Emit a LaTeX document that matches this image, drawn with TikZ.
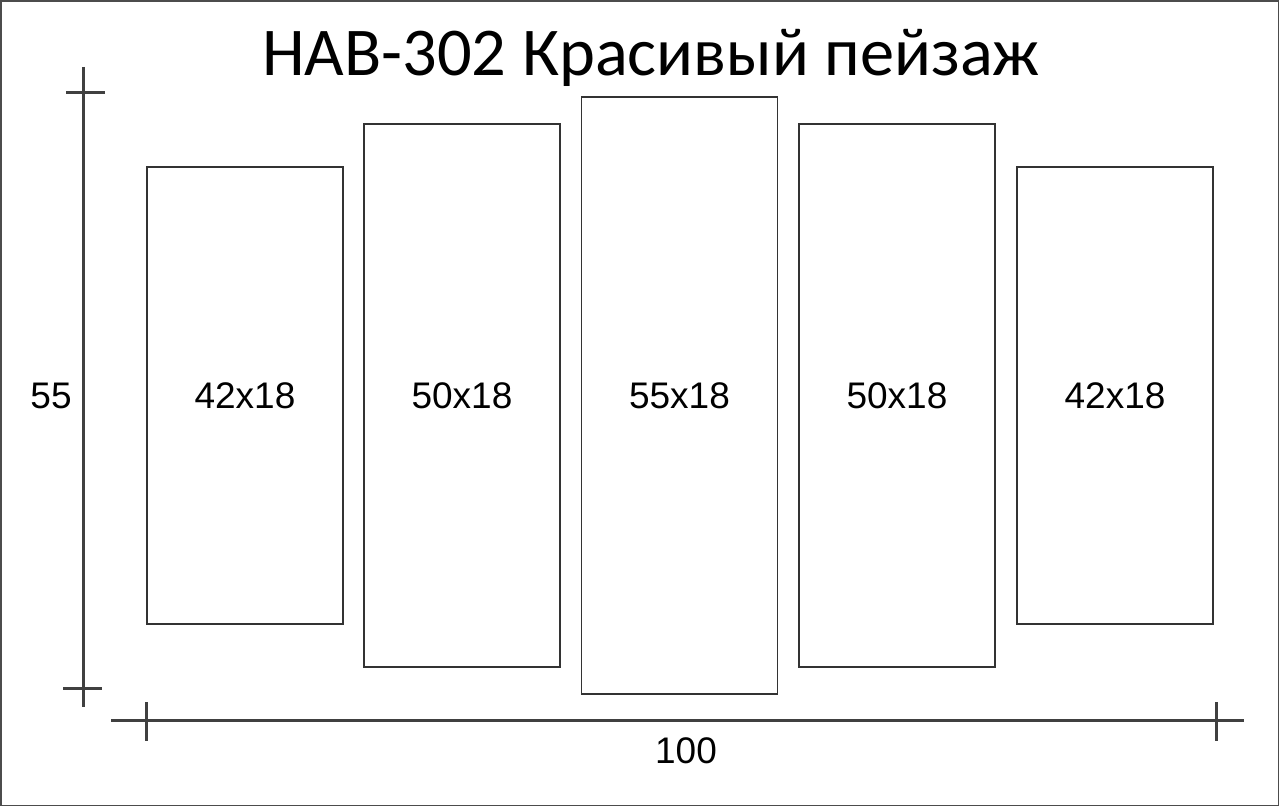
\documentclass[tikz,border=0pt]{standalone}
\usepackage{fontspec}
\setmainfont{Liberation Sans}
\newfontfamily\titlefont{Carlito}
\begin{document}
\begin{tikzpicture}[x=0.5pt,y=-0.5pt,
  panel/.style={draw=black!80, line width=0.75pt, inner sep=0pt, outer sep=0pt,
    minimum width=98pt, font=\fontsize{18.5}{18.5}\selectfont},
  dimline/.style={draw=black!75, line width=1.5pt},
  lbl/.style={font=\fontsize{18.5}{18.5}\selectfont, inner sep=0pt}]
\useasboundingbox (0,0) rectangle (1280,807);
\draw[black!70, line width=0.8pt] (1,1) rectangle (1278.5,805.5);
% title
\node[font=\titlefont\fontsize{34.2}{34.2}\selectfont, anchor=base, inner sep=0pt] (title) at (651,75.5) {НАВ-302 Красивый пейзаж};
% panels
\node[panel, minimum height=228.5pt] (p1) at (245,395.5) {42x18};
\node[panel, minimum height=271.5pt] (p2) at (462,395.5) {50x18};
\node[panel, minimum height=298.5pt] (p3) at (679.5,395.5) {55x18};
\node[panel, minimum height=271.5pt] (p4) at (897,395.5) {50x18};
\node[panel, minimum height=228.5pt] (p5) at (1115,395.5) {42x18};
% vertical dimension
\coordinate (vt) at (83.5,67);
\coordinate (vb) at (83.5,707);
\draw[dimline] (vt) -- (vb);
\coordinate (vt1) at (66,93); \coordinate (vt2) at (105,93);
\coordinate (vb1) at (63,688); \coordinate (vb2) at (102,688);
\draw[dimline] (vt1) -- (vt2);
\draw[dimline] (vb1) -- (vb2);
\node[lbl, anchor=east] (h) at (72,395.5) {55};
% horizontal dimension
\coordinate (hl) at (111,720.5);
\coordinate (hr) at (1244,720.5);
\draw[dimline] (hl) -- (hr);
\coordinate (hl1) at (146,702); \coordinate (hl2) at (146,741);
\coordinate (hr1) at (1216,702); \coordinate (hr2) at (1216,741);
\draw[dimline] (hl1) -- (hl2);
\draw[dimline] (hr1) -- (hr2);
\node[lbl] (w) at (686,751) {100};
\end{tikzpicture}
\end{document}
